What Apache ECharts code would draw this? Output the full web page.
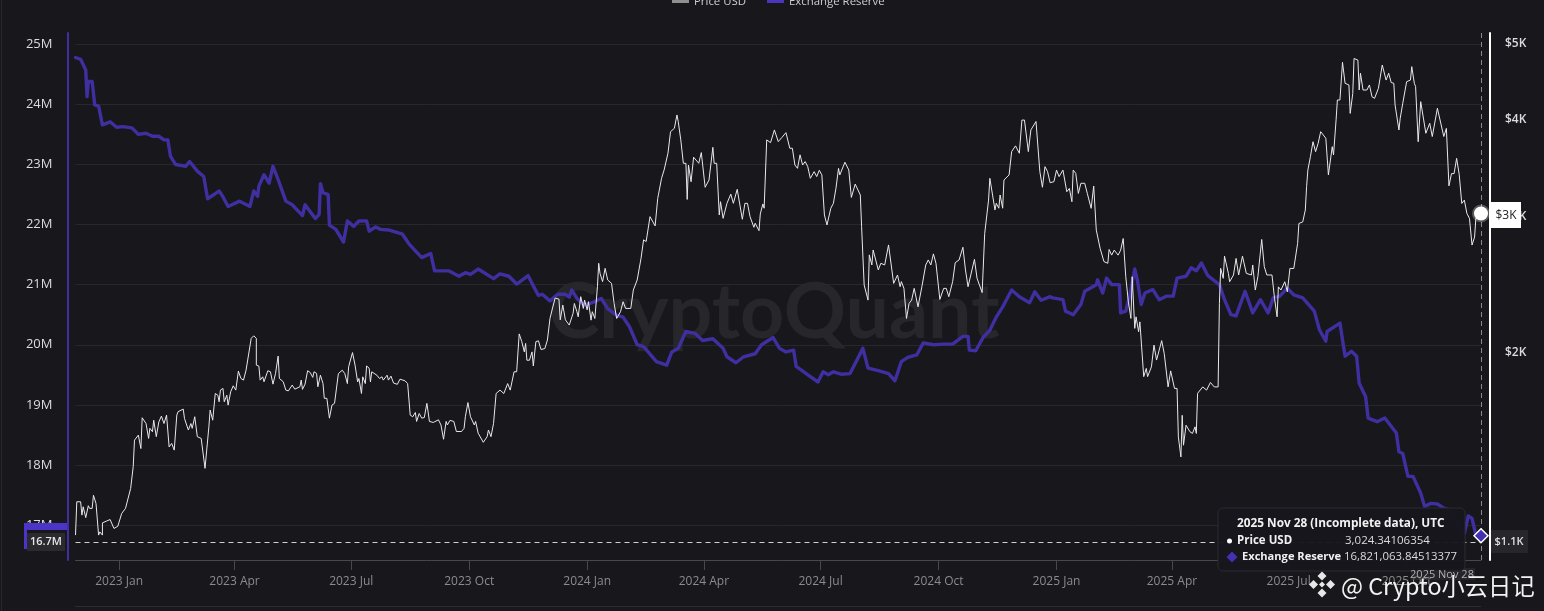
<!DOCTYPE html>
<html><head><meta charset="utf-8">
<style>html,body{margin:0;padding:0;background:#17171c;overflow:hidden}#c{width:1544px;height:611px}</style>
<script src="https://cdn.jsdelivr.net/npm/echarts@6/dist/echarts.min.js"></script>
</head><body><div id="c"></div>
<script>
const startDate = Date.UTC(2022, 10, 28);
const tickDates = ['2023-01-01','2023-04-01','2023-07-01','2023-10-01','2024-01-01','2024-04-01','2024-07-01','2024-10-01','2025-01-01','2025-04-01','2025-07-01','2025-10-01'];
const reserveTicks = [17,18,19,20,21,22,23,24,25];
const priceTicks = [2000,3000,4000,5000];
const cursorReserve = 16710000;
const lastPrice = 3024.34106354;
const lastReserve = 16821063.84513377;

const priceDays = [0,1,4,5,6,8,10,11,13,14,16,18,19,21,21,24,27,30,33,36,39,43,45,46,49,51,52,55,57,58,60,61,63,65,67,69,71,73,75,77,79,80,84,85,88,90,91,93,95,98,101,102,104,105,107,109,111,112,113,115,116,118,119,121,123,125,127,129,131,133,134,137,139,141,141,143,144,146,147,150,152,154,156,156,158,159,162,164,166,169,171,175,176,177,179,181,183,185,186,188,189,
191,193,194,196,198,200,202,205,208,210,212,213,216,218,220,221,223,224,226,227,229,230,231,235,237,239,240,243,244,246,248,251,253,257,259,261,263,265,266,268,270,272,274,276,279,283,285,287,289,290,292,295,297,301,303,304,306,308,311,312,314,318,321,322,324,326,328,331,334,337,339,342,344,346,348,350,351,352,354,356,357,359,361,363,366,368,370,372,374,377,378,380,382,385,
388,389,391,392,394,396,397,399,400,402,403,405,407,408,409,411,413,415,418,420,422,425,427,429,433,435,438,441,443,445,448,452,454,457,459,462,464,467,469,470,472,474,476,477,478,480,482,486,488,491,494,497,498,500,502,503,505,508,511,513,516,517,520,522,524,526,529,530,533,534,536,537,539,542,545,548,551,554,557,559,561,563,565,567,569,571,573,
576,578,580,582,584,586,589,591,593,595,596,600,603,605,608,612,613,615,618,619,621,622,626,628,631,634,635,638,641,643,644,646,648,650,652,654,657,660,663,665,667,669,671,674,677,679,681,684,686,689,692,694,696,701,703,707,709,712,713,717,718,720,721,723,724,728,730,733,736,738,740,743,745,749,752,754,756,758,760,
763,765,767,770,773,775,777,778,780,782,784,787,789,792,794,796,799,802,805,806,808,810,813,815,817,819,821,823,824,826,827,829,830,833,835,836,839,841,843,847,849,852,854,857,859,860,862,863,864,866,869,871,873,874,875,879,882,885,888,891,892,893,895,896,899,900,903,905,907,910,913,917,918,920,922,925,927,929,933,935,937,938,940,943,945,947,
950,953,954,957,959,960,961,963,965,967,969,971,975,977,980,981,983,984,986,988,990,993,994,996,997,1000,1001,1002,1004,1007,1009,1011,1013,1016,1019,1022,1024,1026,1028,1029,1032,1033,1035,1038,1041,1042,1044,1045,1047,1049,1053,1056,1058,1062,1067,1069,1071,1073,1075,1077,1079,1081,1083,1085,1087,1089,1091,1092,1096];
const priceValues = [1165,1286,1286,1236,1267,1227,1271,1261,1261,1311,1279,1165,1176,1165,1208,1214,1220,1188,1196,1242,1261,1338,1427,1544,1567,1506,1650,1622,1552,1599,1583,1638,1560,1630,1658,1622,1663,1513,1529,1499,1663,1680,1693,1646,1591,1622,1599,1655,1560,1552,1420,1420,1606,1688,1638,1773,1764,1730,1791,1800,1730,1764,1713,1782,1814,1791,1895,1854,1845,1900,1900,2088,2104,2088,1929,1923,1845,1863,1836,1897,1891,1823,1882,1873,1981,1854,1836,1791,1787,1818,1796,1809,1845,1795,1823,1897,1887,1860,1891,1882,1809,
1872,1826,1748,1748,1648,1713,1722,1881,1900,1881,1826,1920,2002,1929,1835,1854,1773,1863,1826,1924,1911,1835,1891,1872,1854,1863,1845,1872,1845,1867,1829,1822,1850,1841,1826,1663,1655,1676,1632,1671,1648,1651,1722,1632,1627,1640,1615,1548,1632,1615,1637,1632,1584,1584,1599,1655,1726,1655,1615,1632,1576,1534,1560,1591,1560,1623,1773,1791,1773,1826,1791,1891,1891,2116,2068,2006,2057,1957,1957,2006,1924,2068,2073,2020,2026,2078,2215,2285,2353,2346,2206,2305,2206,2172,
2249,2316,2260,2226,2363,2282,2339,2272,2328,2204,2260,2215,2434,2609,2533,2471,2570,2483,2458,2316,2215,2260,2328,2282,2282,2410,2483,2648,2797,2783,2996,2915,3162,3357,3441,3616,3855,3894,4051,3973,3762,3510,3510,3153,3492,3323,3574,3510,3623,3269,3340,3680,3510,3510,3011,3132,2981,3117,3203,3117,3249,3243,2973,3117,3117,2996,2903,2938,2874,3020,3111,3072,3762,3732,3875,3743,3792,3844,3670,3670,3492,3458,3599,3492,3528,3475,3357,
3424,3374,3438,3391,3011,2923,3072,3117,3259,3458,3391,3521,3441,3172,3300,3195,2909,2446,2339,2675,2596,2714,2558,2609,2596,2755,2741,2458,2520,2434,2471,2422,2215,2316,2339,2422,2293,2434,2596,2635,2596,2683,2609,2344,2422,2422,2363,2471,2614,2635,2736,2558,2434,2640,2496,2392,2851,3147,3357,3056,3117,3072,3195,3072,3340,3391,3634,3696,3616,3990,3990,3634,3875,3973,3424,3269,3475,3424,3313,
3324,3440,3374,3440,3226,3258,3132,3440,3407,3210,3308,3308,3210,3071,3281,2879,2727,2622,2609,2718,2673,2713,2673,2713,2808,2507,2328,2215,2507,2151,2226,2130,2193,1864,1910,1864,1919,2047,1958,2074,1996,1808,1896,1800,1800,1559,1469,1662,1521,1614,1583,1575,1606,1575,1774,1808,1791,1832,1808,1808,2316,2570,2495,2665,2532,2470,2520,2647,2520,2665,2532,2520,2596,2410,2507,2800,2583,2520,2520,2351,2226,2433,2410,2470,2398,2570,
2569,2768,2936,2950,3056,3275,3442,3581,3742,3633,3724,3855,3780,3391,3687,3598,3992,4235,4235,4735,4450,4428,4070,4317,4790,4767,4362,4585,4362,4362,4428,4276,4256,4384,4698,4493,4585,4459,4450,4173,3874,4012,4194,4471,4493,4675,4450,4407,3742,4214,3837,3952,3800,4132,3800,3893,3283,3404,3404,3562,3397,3116,3147,3025,2981,2754,2820,2981,3024.34];

const reserveDays = [0,4,8,9,10,13,15,18,21,27,32,37,44,49,55,60,65,69,72,74,78,86,89,95,100,103,108,112,115,119,128,136,139,142,143,147,151,154,158,164,169,177,179,187,190,191,193,197,198,203,209,212,217,221,227,229,234,238,244,255,260,270,277,280,291,299,304,308,314,326,331,338,344,
353,357,361,364,370,376,382,385,387,391,397,404,410,415,422,427,432,438,443,453,461,465,470,476,483,489,497,505,508,515,521,530,535,544,549,554,560,562,573,
579,583,587,591,597,604,614,618,626,634,639,644,649,656,661,669,677,684,692,696,697,702,708,713,718,723,730,736,744,748,753,760,
762,770,772,778,784,787,796,797,801,804,808,814,815,819,822,826,828,831,834,840,845,851,856,859,866,870,874,878,883,892,896,901,905,912,918,924,930,934,939,945,950,957,964,966,970,975,976,986,990,995,999,1001,1006,1008,1015,1021,1030,1032,1035,1039,1043,1049,1052,1057,1062,1067,1072,1078,1083,1086,1089,1092,1096];
const reserveValues = [24.78,24.75,24.57,24.13,24.38,24.38,23.99,23.97,23.66,23.71,23.62,23.63,23.61,23.50,23.52,23.47,23.47,23.41,23.41,23.14,23.00,22.97,23.05,22.89,22.80,22.43,22.50,22.56,22.46,22.30,22.39,22.30,22.56,22.47,22.64,22.83,22.69,22.97,22.75,22.39,22.33,22.15,22.33,22.10,22.17,22.68,22.53,22.50,21.99,21.92,21.71,22.06,21.97,22.06,22.06,21.89,21.96,21.92,21.91,21.84,21.68,21.45,21.52,21.23,21.23,21.14,21.20,21.17,21.26,21.10,21.18,21.14,21.01,
21.15,20.98,20.82,20.84,20.73,20.84,20.84,20.79,20.91,20.77,20.66,20.71,20.77,20.60,20.49,20.46,20.30,20.00,19.97,19.72,19.66,19.88,19.94,20.22,20.19,20.07,20.10,19.94,19.80,19.70,19.80,19.85,20.00,20.12,19.94,19.88,19.91,19.64,19.47,
19.38,19.55,19.50,19.55,19.51,19.52,19.94,19.61,19.57,19.52,19.40,19.72,19.79,19.83,20.03,20.00,20.01,20.01,20.14,20.14,19.91,19.90,20.13,20.24,20.46,20.63,20.91,20.80,20.70,20.88,20.74,20.80,
20.78,20.75,20.56,20.50,20.67,20.89,21.00,21.08,20.86,21.11,21.00,21.00,20.53,20.56,20.81,21.26,21.08,20.67,20.86,20.92,20.75,20.81,20.81,21.11,21.14,21.28,21.23,21.36,21.15,21.00,20.75,20.50,20.48,20.89,20.53,20.75,20.53,20.78,20.81,20.94,20.83,20.78,20.61,20.56,20.25,20.06,20.22,20.36,19.81,19.89,19.81,19.36,19.14,18.78,18.72,18.78,18.53,18.22,18.19,17.81,17.81,17.53,17.31,17.36,17.35,17.28,17.25,17.00,16.86,17.15,17.11,16.83,16.82106];

const DAY = 864e5;
const toTime = d => startDate + d * DAY;
const priceData = priceDays.map((d, i) => [toTime(d), priceValues[i]]);
const reserveData = reserveDays.map((d, i) => [toTime(d), reserveValues[i] * 1e6]);
const lastTime = toTime(1096);
const MONTHS = ['Jan','Feb','Mar','Apr','May','Jun','Jul','Aug','Sep','Oct','Nov','Dec'];
const PURPLE = '#3f2fa0';
const ff = '"Open Sans","Noto Sans",sans-serif';
const tickTimes = tickDates.map(s => Date.parse(s + 'T00:00:00Z'));

function txt(x, y, text, o) {
  return {type:'text', x, y, z:100, style:Object.assign({text, fontFamily:ff, fontSize:12, fill:'#e6e6e6', verticalAlign:'middle'}, o||{})};
}
function box(x, y, w, h, fill, o) {
  return {type:'rect', z:90, shape:Object.assign({x, y, width:w, height:h}, o&&o.shape||{}), style:Object.assign({fill}, o&&o.style||{})};
}
function diamond(cx, cy, r, fill) {
  return {type:'polygon', z:110, shape:{points:[[cx,cy-r],[cx+r,cy],[cx,cy+r],[cx-r,cy]]}, style:{fill}};
}

const chart = echarts.init(document.getElementById('c'), null, {renderer:'canvas'});
chart.setOption({
  animation:false,
  backgroundColor:'#17171c',
  legend:{
    top:-9, left:667, itemWidth:17, itemHeight:3, itemGap:21,
    textStyle:{color:'#cfcfcf', fontSize:11.4, fontFamily:ff},
    data:[{name:'Price USD', icon:'rect', itemStyle:{color:'#8f8f8f'}},
          {name:'Exchange Reserve', icon:'rect', itemStyle:{color:'#4a35c0'}}]
  },
  grid:{left:75.5, right:63, top:33, bottom:51},
  xAxis:{
    type:'value', min:startDate, max:lastTime,
    axisLine:{lineStyle:{color:'#47474c', width:1}},
    axisTick:{show:true, length:10, lineStyle:{color:'#47474c'}, customValues:tickTimes},
    axisLabel:{color:'#8c8c8c', fontSize:12, fontFamily:ff, margin:16, hideOverlap:false,
      customValues:tickTimes,
      formatter:v=>{const d=new Date(v);return d.getUTCFullYear()+' '+MONTHS[d.getUTCMonth()];}},
    splitLine:{show:false}
  },
  yAxis:[{
    type:'value', position:'left', offset:8, min:16418000, max:25188000,
    axisLine:{show:true, onZero:false, lineStyle:{color:PURPLE, width:2}},
    axisTick:{show:false, customValues:reserveTicks.map(v=>v*1e6)},
    axisLabel:{color:'#dcdcdc', fontSize:13, fontFamily:ff, margin:15,
      customValues:reserveTicks.map(v=>v*1e6), formatter:v=>Math.round(v/1e6)+'M'},
    splitLine:{show:true, lineStyle:{color:'#27272d', width:1}}
  },{
    type:'log', logBase:10, position:'right', offset:9, min:1082, max:5166,
    axisLine:{show:true, lineStyle:{color:'#ffffff', width:2}},
    axisTick:{show:false, customValues:priceTicks},
    axisLabel:{color:'#dcdcdc', fontSize:12, fontFamily:ff, fontWeight:600, margin:15, padding:[4,0,0,0],
      customValues:priceTicks, formatter:v=>'$'+Math.round(v/1000)+'K'},
    splitLine:{show:false}
  }],
  series:[{
    name:'Exchange Reserve', type:'line', yAxisIndex:0, showSymbol:false, z:3,
    data:reserveData, lineStyle:{color:PURPLE, width:3.4, join:'round', cap:'round'}, itemStyle:{color:PURPLE},
    markLine:{silent:true, symbol:'none', label:{show:false}, z:4, animation:false,
      data:[
        {yAxis:cursorReserve, lineStyle:{color:'#d0d0d0', type:[5,4], width:1}},
        {xAxis:lastTime, lineStyle:{color:'#8a8a8a', type:[5,4], width:1}}
      ]},
    markPoint:{silent:true, z:12, animation:false,
      data:[{coord:[lastTime,lastReserve], symbol:'diamond', symbolSize:14,
        itemStyle:{color:'#4331b4', borderColor:'#ffffff', borderWidth:1.5}, label:{show:false}}]}
  },{
    name:'Price USD', type:'line', yAxisIndex:1, showSymbol:false, z:4,
    data:priceData, lineStyle:{color:'#e9e9e9', width:1}, itemStyle:{color:'#e9e9e9'},
    markPoint:{silent:true, z:12, animation:false,
      data:[{coord:[lastTime,lastPrice], symbol:'circle', symbolSize:14,
        itemStyle:{color:'#ffffff', borderColor:'rgba(255,255,255,0.28)', borderWidth:4}, label:{show:false}}]}
  }],
  graphic:{elements:[
    {type:'text', x:774, y:313, z:-1, silent:true, style:{text:'CryptoQuant', fontFamily:'Lato,"Open Sans",sans-serif', fontWeight:700, fontSize:77, fill:'#27272b', align:'center', verticalAlign:'middle'}},
    box(1, 0, 1, 611, '#26262b'),
    box(75, 606, 1406, 1, '#2c2c31'),
    box(24, 523, 43, 7, '#4a35c8'),
    box(24, 530, 3, 19, '#4a35c8'),
    box(27, 533, 38, 18, '#2a2a2f'),
    txt(46, 542, '16.7M', {align:'center', fontWeight:600, fontSize:11, fill:'#e6e6e6'}),
    box(1491, 202, 30, 26, '#ffffff'),
    txt(1506, 216, '$3K', {align:'center', fill:'#222', fontSize:12}),
    box(1491, 530, 37, 23, '#26262b'),
    txt(1509, 542, '$1.1K', {align:'center', fontSize:11, fill:'#dedede', fontWeight:600}),
    box(1411, 568, 64, 12, 'rgba(50,50,55,0.5)'),
    txt(1442, 575, '2025 Nov 28', {align:'center', fontSize:11, fill:'#b0b0b0'}),
    box(1218, 508, 247, 63, 'rgba(23,23,29,0.97)', {shape:{r:5}, style:{stroke:'#2a2a31', lineWidth:1}}),
    txt(1237, 524, '2025 Nov 28 (Incomplete data), UTC', {fontWeight:700, fontSize:11.8, fill:'#f2f2f2'}),
    {type:'circle', z:110, shape:{cx:1229.5, cy:541, r:2.5}, style:{fill:'#ffffff'}},
    txt(1237, 541, 'Price USD', {fontWeight:700, fontSize:11.5, fill:'#f0f0f0'}),
    txt(1345, 541, '3,024.34106354', {fontSize:11.5, fill:'#dcdcdc'}),
    diamond(1232, 557, 5.5, '#4331b4'),
    txt(1242, 557, 'Exchange Reserve', {fontWeight:700, fontSize:11.1, fill:'#f0f0f0'}),
    txt(1344, 557, '16,821,063.84513377', {fontSize:11.4, fill:'#dcdcdc'}),
    diamond(1322, 576, 4.5, '#e8e8e8'),
    diamond(1322, 593, 4.5, '#e8e8e8'),
    diamond(1313.5, 584.5, 4.5, '#e8e8e8'),
    diamond(1330.5, 584.5, 4.5, '#e8e8e8'),
    diamond(1322, 584.5, 3, '#e8e8e8'),
    txt(1341, 586, '@ Crypto小云日记', {fontFamily:'"Noto Sans CJK SC","Noto Sans",sans-serif', fontSize:23.3, fill:'#f2f2f2'})
  ]}
});
</script></body></html>
